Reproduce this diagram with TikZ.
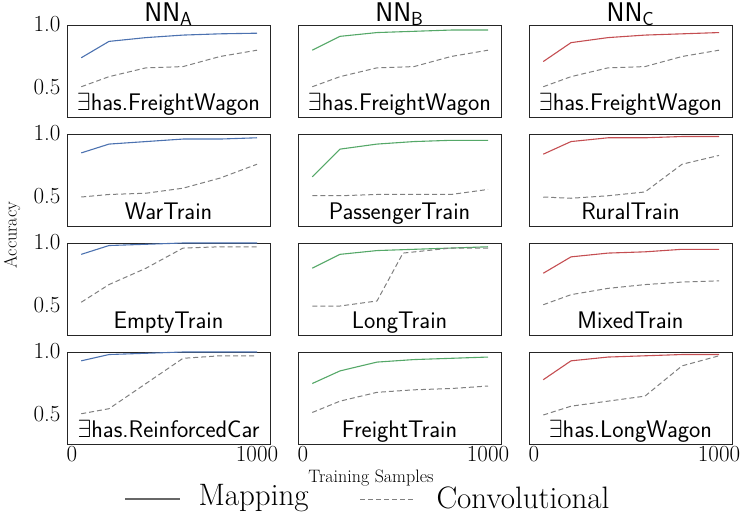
\documentclass[tikz,border=0pt]{standalone}
\usepackage{fontspec}
\definecolor{cA}{RGB}{76,114,176}
\definecolor{cB}{RGB}{85,168,104}
\definecolor{cC}{RGB}{196,78,82}
\definecolor{cD}{RGB}{128,128,128}
\tikzset{
 panel/.style={draw=black!85,line width=0.7pt},
 mapline/.style={line width=1.1pt},
 convline/.style={cD,line width=1pt,dash pattern=on 5pt off 3pt},
 plabel/.style={font=\sffamily\fontsize{24}{24}\selectfont,anchor=base},
 tick/.style={font=\fontsize{23}{23}\selectfont},
 ttl/.style={font=\sffamily\fontsize{27}{27}\selectfont},
}
\newcommand{\mypanel}[7]{% #1 col idx, #2 row idx, #3 color, #4 map, #5 conv, #6 label, #7 name
 \pgfmathsetmacro{\px}{67+231*#1}\pgfmathsetmacro{\py}{25+109*#2}
 \draw[panel] (\px,\py) rectangle ++(203,92);
 \begin{scope}[shift={(\px+5,\py)}]
  \draw[mapline,#3] plot coordinates {#4};
  \draw[convline] plot coordinates {#5};
 \end{scope}
 \node[plabel] (#7) at (\px+101.5,\py+85) {#6};
}
\begin{document}
\begin{tikzpicture}[x=1pt,y=-1pt]
\useasboundingbox (0,0) rectangle (743,515);
\def\P#1#2#3#4#5#6{(9.25,{(1-#1)*126}) (37,{(1-#2)*126}) (74,{(1-#3)*126}) (111,{(1-#4)*126}) (148,{(1-#5)*126}) (185,{(1-#6)*126})}
\mypanel{0}{0}{cA}{\P{.74}{.87}{.90}{.92}{.93}{.935}}{\P{.51}{.59}{.66}{.67}{.75}{.80}}{$\exists$has.FreightWagon}{p00}
\mypanel{1}{0}{cB}{\P{.80}{.91}{.94}{.95}{.96}{.96}}{\P{.51}{.59}{.66}{.67}{.75}{.80}}{$\exists$has.FreightWagon}{p10}
\mypanel{2}{0}{cC}{\P{.71}{.86}{.90}{.92}{.93}{.94}}{\P{.51}{.59}{.66}{.67}{.75}{.80}}{$\exists$has.FreightWagon}{p20}
\mypanel{0}{1}{cA}{\P{.85}{.92}{.94}{.96}{.96}{.97}}{\P{.50}{.52}{.53}{.57}{.65}{.76}}{WarTrain}{p01}
\mypanel{1}{1}{cB}{\P{.66}{.88}{.92}{.94}{.95}{.95}}{\P{.51}{.51}{.52}{.52}{.52}{.56}}{PassengerTrain}{p11}
\mypanel{2}{1}{cC}{\P{.84}{.94}{.97}{.97}{.98}{.98}}{\P{.50}{.49}{.51}{.54}{.76}{.83}}{RuralTrain}{p21}
\mypanel{0}{2}{cA}{\P{.91}{.98}{.99}{1.0}{1.0}{1.0}}{\P{.53}{.67}{.80}{.96}{.97}{.97}}{EmptyTrain}{p02}
\mypanel{1}{2}{cB}{\P{.80}{.91}{.94}{.95}{.96}{.97}}{(9.25,63) (37,63) (74,{(1-.54)*126}) (100,{(1-.92)*126}) (148,{(1-.96)*126}) (185,{(1-.96)*126})}{LongTrain}{p12}
\mypanel{2}{2}{cC}{\P{.76}{.89}{.92}{.93}{.95}{.95}}{\P{.51}{.59}{.64}{.67}{.69}{.70}}{MixedTrain}{p22}
\mypanel{0}{3}{cA}{\P{.93}{.98}{.99}{1.0}{1.0}{1.0}}{\P{.51}{.55}{.75}{.95}{.97}{.97}}{$\exists$has.ReinforcedCar}{p03}
\mypanel{1}{3}{cB}{\P{.75}{.85}{.92}{.94}{.95}{.96}}{\P{.52}{.61}{.68}{.70}{.71}{.73}}{FreightTrain}{p13}
\mypanel{2}{3}{cC}{\P{.78}{.93}{.96}{.97}{.98}{.98}}{\P{.50}{.57}{.61}{.65}{.89}{.97}}{$\exists$has.LongWagon}{p23}
\node[ttl] (tA) at (168.5,14) {NN\textsubscript{A}};
\node[ttl] (tB) at (399.5,14) {NN\textsubscript{B}};
\node[ttl] (tC) at (630.5,14) {NN\textsubscript{C}};
\foreach \r in {0,1,2,3}{
 \node[tick,anchor=east] (ya\r) at (64,{24+109*\r}) {1.0};
 \node[tick,anchor=east] (yb\r) at (64,{87+109*\r}) {0.5};
}
\foreach \c in {0,1,2}{
 \node[tick] (x0\c) at ({72+231*\c},454) {0};
 \node[tick] (x1\c) at ({257+231*\c},454) {1000};
}
\node[font=\fontsize{18}{18}\selectfont,rotate=90] (yl) at (12,235) {Accuracy};
\node[font=\fontsize{18}{18}\selectfont] (xl) at (371,478) {Training Samples};
\coordinate (l1a) at (125,499); \coordinate (l1b) at (180,499);
\draw[cD!80!black,line width=1.2pt] (l1a) -- (l1b);
\node[font=\fontsize{31}{31}\selectfont,anchor=west] (lm) at (195,498) {Mapping};
\coordinate (l2a) at (360,499); \coordinate (l2b) at (415,499);
\draw[convline] (l2a) -- (l2b);
\node[font=\fontsize{31}{31}\selectfont,anchor=west] (lc) at (433,498) {Convolutional};
\end{tikzpicture}
\end{document}
